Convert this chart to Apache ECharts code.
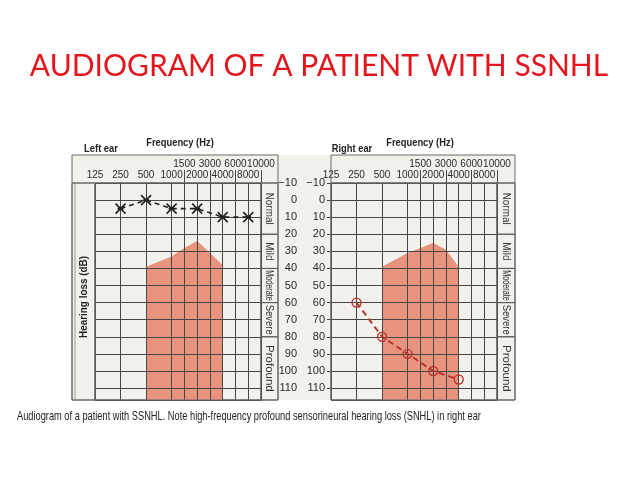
<!DOCTYPE html>
<html>
<head>
<meta charset="utf-8">
<script src="https://cdn.jsdelivr.net/npm/echarts@6/dist/echarts.min.js"></script>
<style>
  html, body { margin: 0; background: #fff; }
  #chart { width: 638px; height: 478px; }
</style>
</head>
<body>
<div id="chart"></div>
<script>
// frequency slots (half-octave steps, as on the printed audiogram)
const freqCats = ['125', '177', '250', '354', '500', '707', '1000', '1500', '2000', '3000', '4000', '6000', '8000', '10000']
const freqRowLow = ['125', '250', '500', '1000', '2000', '4000', '8000']
const freqRowHigh = ['1500', '3000', '6000', '10000']

// hearing level scale (dB)
const dbMin = -10
const dbMax = 117
const dbStep = 10

// degree of loss bands
const bandNames = ['Normal', 'Mild', 'Moderate', 'Severe', 'Profound']
const bandFrom = [-10, 20, 40, 60, 80]
const bandTo = [20, 40, 60, 80, 117]

// shaded region
const regionFreqs = ['500', '1000', '1500', '2000', '3000', '4000']
const regionLeft = [39, 33, 28, 24, 31, 38]
const regionRight = [39, 31, 28, 25, 29, 39]

// thresholds
const leftFreqs = ['250', '500', '1000', '2000', '4000', '8000']
const leftDb = [5, 0, 5, 5, 10, 10]
const rightFreqs = ['250', '500', '1000', '2000', '4000']
const rightDb = [60, 80, 90, 100, 105]

const SANS = "'Liberation Sans', Arial, sans-serif"
const LINE = '#474747'
// squeeze factor of the rotated band captions (the print uses a condensed face)
const bandTextScale = { Normal: 0.9, Mild: 0.9, Moderate: 0.66, Severe: 0.86, Profound: 1 }

const isLow = (i, v) => freqRowLow.indexOf(v) >= 0
const isHigh = (i, v) => freqRowHigh.indexOf(v) >= 0
const minus = (v) => (v > 110 ? '' : v < 0 ? '\u2212' + -v : String(v))

function freqAxes(gridIndex) {
  return [
    {
      type: 'category', gridIndex, data: freqCats, boundaryGap: false, position: 'top', z: 3,
      axisLine: { show: false }, axisTick: { show: false },
      axisLabel: { interval: isLow, margin: 3, fontSize: 10, color: '#2a2a2a', fontFamily: SANS },
      splitLine: { show: true, interval: (i, v) => isLow(i, v) || isHigh(i, v), lineStyle: { color: LINE, width: 1 } },
    },
    {
      type: 'category', gridIndex, data: freqCats, boundaryGap: false, position: 'top', z: 3,
      axisLine: { show: false },
      axisTick: { show: true, interval: isHigh, length: 13, lineStyle: { color: LINE, width: 1 } },
      axisLabel: { interval: isHigh, margin: 14, fontSize: 10, color: '#2a2a2a', fontFamily: SANS, showMaxLabel: true },
      splitLine: { show: false },
    },
  ]
}

function dbAxis(gridIndex, extra) {
  return Object.assign({
    type: 'value', gridIndex, min: dbMin, max: dbMax, interval: dbStep, inverse: true, z: 3,
    axisLine: { show: false }, axisTick: { show: false }, axisLabel: { show: false },
    splitLine: { show: true, lineStyle: { color: LINE, width: 1 } },
  }, extra)
}

const bandAxis = (gridIndex) => ({ type: 'value', gridIndex, min: 0, max: 1, show: false })

function bandSeries(xAxisIndex, yAxisIndex) {
  return {
    type: 'custom', xAxisIndex, yAxisIndex, silent: true, z: 4,
    encode: { x: 0, y: [1, 2] },
    data: bandNames.map((n, i) => [0, bandFrom[i], bandTo[i]]),
    renderItem(params, api) {
      const p0 = api.coord([0, api.value(1)])
      const p1 = api.coord([1, api.value(2)])
      const name = bandNames[params.dataIndex]
      return {
        type: 'group',
        children: [
          { type: 'rect', shape: { x: p0[0], y: p0[1], width: p1[0] - p0[0], height: p1[1] - p0[1] },
            style: { fill: 'none', stroke: '#5a5a5a', lineWidth: 1 } },
          { type: 'text', x: (p0[0] + p1[0]) / 2, y: (p0[1] + p1[1]) / 2, rotation: -Math.PI / 2,
            scaleX: bandTextScale[name] || 1,
            style: { text: name, align: 'center', verticalAlign: 'middle', fill: '#333',
              font: (name === 'Profound' ? 11.5 : 11) + 'px ' + SANS } },
        ],
      }
    },
  }
}

const chart = echarts.init(document.getElementById('chart'))
const option = {
  backgroundColor: '#fff',
  animation: false,
  title: {
    text: 'AUDIOGRAM OF A PATIENT WITH SSNHL',
    left: 'center', top: 46,
    textStyle: { color: '#e3161d', fontSize: 30, fontWeight: 'normal', fontFamily: 'Lato, sans-serif' },
  },
  grid: [
    { left: 95, top: 183, width: 166, height: 217, show: true, borderColor: LINE, borderWidth: 1, backgroundColor: 'transparent' },
    { left: 261, top: 183, width: 17, height: 217 },
    { left: 331, top: 183, width: 166, height: 217, show: true, borderColor: LINE, borderWidth: 1, backgroundColor: 'transparent' },
    { left: 497, top: 183, width: 18, height: 217 },
  ],
  xAxis: [...freqAxes(0), ...freqAxes(2), bandAxis(1), bandAxis(3)],
  yAxis: [
    dbAxis(0),
    dbAxis(2, {
      axisLabel: { show: true, margin: 6, fontSize: 11, color: '#2a2a2a', fontFamily: SANS, formatter: minus, showMaxLabel: false },
      axisTick: { show: true, length: 4, lineStyle: { color: LINE } },
    }),
    {
      type: 'value', gridIndex: 1, min: dbMin, max: dbMax, interval: dbStep, inverse: true, position: 'right',
      axisLine: { show: false }, axisTick: { show: false }, splitLine: { show: false },
      axisLabel: { show: true, margin: 19, align: 'right', fontSize: 11, color: '#2a2a2a', fontFamily: SANS, formatter: minus, showMaxLabel: false },
    },
    { type: 'value', gridIndex: 3, min: dbMin, max: dbMax, inverse: true, show: false },
  ],
  series: [
    {
      type: 'line', xAxisIndex: 0, yAxisIndex: 0, z: 2, silent: true, symbol: 'none',
      data: regionFreqs.map((f, i) => [f, regionLeft[i]]),
      lineStyle: { width: 0 }, areaStyle: { color: '#e8937e', opacity: 1, origin: 'end' },
    },
    {
      type: 'line', xAxisIndex: 2, yAxisIndex: 1, z: 2, silent: true, symbol: 'none',
      data: regionFreqs.map((f, i) => [f, regionRight[i]]),
      lineStyle: { width: 0 }, areaStyle: { color: '#e8937e', opacity: 1, origin: 'end' },
    },
    {
      type: 'line', name: 'Left ear', xAxisIndex: 0, yAxisIndex: 0, z: 5,
      data: leftFreqs.map((f, i) => [f, leftDb[i]]),
      symbol: 'path://M0,0L10,10M10,0L0,10M2,5L8,5', symbolSize: 10,
      itemStyle: { color: '#222', borderColor: '#222', borderWidth: 1.6 },
      lineStyle: { color: '#222', width: 1.6, type: [5, 4] },
    },
    {
      type: 'line', name: 'Right ear', xAxisIndex: 2, yAxisIndex: 1, z: 5,
      data: rightFreqs.map((f, i) => [f, rightDb[i]]),
      symbol: 'circle', symbolSize: 9,
      itemStyle: { color: 'rgba(0,0,0,0)', borderColor: '#b8352c', borderWidth: 1.4 },
      lineStyle: { color: '#b8352c', width: 2, type: [6, 4] },
    },
    bandSeries(4, 2),
    bandSeries(5, 3),
  ],
  graphic: [
    // panel backgrounds and frames
    { type: 'rect', z: -10, shape: { x: 72, y: 155, width: 443, height: 245 }, style: { fill: '#f2f1ec' } },
    { type: 'rect', z: 10, shape: { x: 72, y: 155, width: 206, height: 245 }, style: { fill: 'none', stroke: '#6a6a6a', lineWidth: 1 } },
    { type: 'rect', z: 10, shape: { x: 72, y: 183, width: 23, height: 217 }, style: { fill: 'none', stroke: '#6a6a6a', lineWidth: 1 } },
    { type: 'line', z: 10, shape: { x1: 75, y1: 183, x2: 75, y2: 400 }, style: { stroke: '#9a9a9a', lineWidth: 1 } },
    { type: 'rect', z: 10, shape: { x: 331, y: 155, width: 184, height: 245 }, style: { fill: 'none', stroke: '#6a6a6a', lineWidth: 1 } },
    { type: 'line', z: 10, shape: { x1: 72, y1: 183, x2: 278, y2: 183 }, style: { stroke: '#6a6a6a', lineWidth: 1 } },
    { type: 'line', z: 10, shape: { x1: 331, y1: 183, x2: 515, y2: 183 }, style: { stroke: '#6a6a6a', lineWidth: 1 } },
    // headings
    { type: 'text', x: 101, y: 149, scaleX: 0.85, style: { text: 'Left ear', align: 'center', verticalAlign: 'middle', fill: '#222', font: 'bold 11px ' + SANS } },
    { type: 'text', x: 180, y: 143, scaleX: 0.85, style: { text: 'Frequency (Hz)', align: 'center', verticalAlign: 'middle', fill: '#222', font: 'bold 11px ' + SANS } },
    { type: 'text', x: 352, y: 149, scaleX: 0.85, style: { text: 'Right ear', align: 'center', verticalAlign: 'middle', fill: '#222', font: 'bold 11px ' + SANS } },
    { type: 'text', x: 420, y: 143, scaleX: 0.85, style: { text: 'Frequency (Hz)', align: 'center', verticalAlign: 'middle', fill: '#222', font: 'bold 11px ' + SANS } },
    { type: 'text', x: 84, y: 297, rotation: Math.PI / 2, scaleX: 0.9, style: { text: 'Hearing loss (dB)', align: 'center', verticalAlign: 'middle', fill: '#222', font: 'bold 11px ' + SANS } },
    // caption
    { type: 'text', x: 17, y: 417, scaleX: 0.76, style: { text: 'Audiogram of a patient with SSNHL. Note high-frequency profound sensorineural hearing loss (SNHL) in right ear',
      align: 'left', verticalAlign: 'middle', fill: '#222', font: '12.2px ' + SANS } },
  ],
}
chart.setOption(option)
</script>
</body>
</html>
